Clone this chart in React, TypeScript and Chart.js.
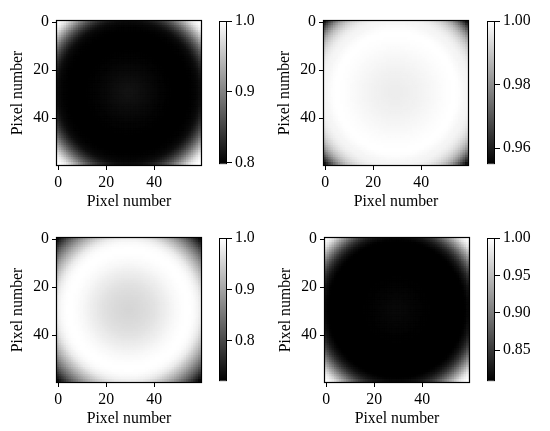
import React, { useEffect, useRef } from "react";
import { Chart, registerables } from "chart.js";

Chart.register(...registerables);

// ---------- data ----------
const GRID_N = 60;
const CENTER = 29.5;
const AXIS_TICKS = [0, 20, 40];
const X_TITLE = "Pixel number";
const Y_TITLE = "Pixel number";

// radial intensity profiles, index = distance (pixels) from image centre, 0..42
const PROFILE_A = [
  0.811, 0.811, 0.811, 0.81, 0.809, 0.808, 0.807, 0.806, 0.805, 0.804, 0.803,
  0.802, 0.801, 0.8, 0.799, 0.799, 0.798, 0.798, 0.797, 0.797, 0.797, 0.797,
  0.797, 0.797, 0.797, 0.797, 0.798, 0.799, 0.801, 0.804, 0.809, 0.819, 0.832,
  0.848, 0.866, 0.886, 0.909, 0.931, 0.953, 0.974, 0.988, 0.996, 1.0,
];
const PROFILE_B = [
  0.9968, 0.9968, 0.9968, 0.9969, 0.997, 0.9971, 0.9972, 0.9974, 0.9975,
  0.9976, 0.9977, 0.9979, 0.9981, 0.9983, 0.9985, 0.9986, 0.9988, 0.999,
  0.9992, 0.9994, 0.9995, 0.9997, 0.9998, 0.9999, 1.0, 1.0, 0.9998, 0.9994,
  0.9989, 0.9984, 0.9982, 0.9977, 0.9968, 0.9955, 0.9937, 0.9914, 0.9887,
  0.9851, 0.9806, 0.9751, 0.9693, 0.9625, 0.9562,
];
const PROFILE_C = [
  0.955, 0.955, 0.956, 0.957, 0.958, 0.959, 0.96, 0.962, 0.963, 0.965, 0.967,
  0.969, 0.972, 0.975, 0.978, 0.98, 0.983, 0.986, 0.989, 0.992, 0.994, 0.996,
  0.998, 0.999, 1.0, 1.0, 0.999, 0.997, 0.993, 0.986, 0.978, 0.964, 0.947,
  0.93, 0.911, 0.891, 0.869, 0.847, 0.824, 0.799, 0.774, 0.749, 0.727,
];
const PROFILE_D = [
  0.814, 0.814, 0.814, 0.813, 0.813, 0.812, 0.812, 0.811, 0.811, 0.81, 0.81,
  0.809, 0.809, 0.809, 0.808, 0.808, 0.808, 0.808, 0.808, 0.808, 0.808, 0.808,
  0.808, 0.808, 0.808, 0.808, 0.808, 0.808, 0.808, 0.81, 0.816, 0.823, 0.835,
  0.848, 0.866, 0.885, 0.906, 0.927, 0.948, 0.969, 0.985, 0.994, 1.0,
];

const COLOR_MIN = [0.797, 0.9548, 0.721, 0.808];
const COLOR_MAX = [1.0, 1.0, 1.0, 1.0];

const CB_TICKS_A = [0.8, 0.9, 1.0];
const CB_LABELS_A = ["0.8", "0.9", "1.0"];
const CB_TICKS_B = [0.96, 0.98, 1.0];
const CB_LABELS_B = ["0.96", "0.98", "1.00"];
const CB_TICKS_C = [0.8, 0.9, 1.0];
const CB_LABELS_C = ["0.8", "0.9", "1.0"];
const CB_TICKS_D = [0.85, 0.9, 0.95, 1.0];
const CB_LABELS_D = ["0.85", "0.90", "0.95", "1.00"];

const PROFILES = [PROFILE_A, PROFILE_B, PROFILE_C, PROFILE_D];
const CB_TICKS = [CB_TICKS_A, CB_TICKS_B, CB_TICKS_C, CB_TICKS_D];
const CB_LABELS = [CB_LABELS_A, CB_LABELS_B, CB_LABELS_C, CB_LABELS_D];

// ---------- layout ----------
const PANEL_POS = [
  { L: 57, T: 21, CL: 219 },
  { L: 324, T: 21, CL: 487 },
  { L: 57, T: 238, CL: 219 },
  { L: 325, T: 238, CL: 487 },
];
const AREA = 144;
const Y_AXIS_W = 57;
const X_AXIS_H = 50;
const TOP_PAD = 21;
const RIGHT_PAD = 9;
const CB_W = 8;
const CB_LEFT_PAD = 5;
const CB_AXIS_W = 50;
const CB_BOTTOM_PAD = 12;

const FONT = { family: "'Liberation Serif', 'Times New Roman', serif", size: 15.8, lineHeight: 1.2 };

const framePlugin = {
  id: "frame",
  afterDraw(chart: any) {
    const a = chart.chartArea;
    const c = chart.ctx;
    c.save();
    c.strokeStyle = "#000";
    c.lineWidth = 1.2;
    const l = Math.round(a.left) - 0.5;
    const t = Math.round(a.top) - 0.5;
    const r = Math.round(a.right) + 0.5;
    const b = Math.round(a.bottom) + 0.5;
    c.strokeRect(l, t, r - l, b - t);
    c.restore();
  },
};

function grayOf(v: number, vmin: number, vmax: number) {
  const f = Math.max(0, Math.min(1, (v - vmin) / (vmax - vmin)));
  const g = Math.round(f * 255);
  return `rgb(${g},${g},${g})`;
}

function profileAt(profile: number[], r: number) {
  const i = Math.min(Math.floor(r), profile.length - 1);
  const j = Math.min(i + 1, profile.length - 1);
  const t = Math.min(1, r - i);
  return profile[i] + (profile[j] - profile[i]) * t;
}

function heatConfig(idx: number): any {
  const profile = PROFILES[idx];
  const vmin = COLOR_MIN[idx];
  const vmax = COLOR_MAX[idx];
  const pts: any[] = [];
  const colors: string[] = [];
  for (let y = 0; y < GRID_N; y++) {
    for (let x = 0; x < GRID_N; x++) {
      const r = Math.hypot(x - CENTER, y - CENTER);
      const v = profileAt(profile, r);
      pts.push({ x, y, v });
      colors.push(grayOf(v, vmin, vmax));
    }
  }
  const tickSetter = (s: any) => {
    s.min = -0.5;
    s.max = GRID_N - 0.5;
    s.ticks = AXIS_TICKS.map((v) => ({ value: v }));
  };
  return {
    type: "scatter",
    data: {
      datasets: [
        {
          data: pts,
          pointStyle: "rect",
          pointBackgroundColor: colors,
          pointBorderWidth: 0,
          pointRadius: (ctx: any) => {
            const a = ctx.chart.chartArea;
            const w = a ? (a.right - a.left) / GRID_N : 2.4;
            return (w + 1.2) / Math.SQRT2;
          },
          clip: 0,
        },
      ],
    },
    options: {
      animation: false,
      responsive: false,
      events: [],
      layout: { padding: { left: 0, top: TOP_PAD, right: RIGHT_PAD, bottom: 0 } },
      plugins: { legend: { display: false }, tooltip: { enabled: false } },
      scales: {
        x: {
          type: "linear",
          bounds: "data",
          min: -0.5,
          max: GRID_N - 0.5,
          afterBuildTicks: tickSetter,
          afterFit: (s: any) => {
            s.height = X_AXIS_H;
          },
          ticks: { color: "#000", font: FONT, padding: 3, maxRotation: 0, autoSkip: false, callback: (v: any) => String(v) },
          grid: { drawOnChartArea: false, drawTicks: true, tickLength: 5, color: "#000" },
          border: { display: false },
          title: { display: true, text: X_TITLE, color: "#000", font: FONT, padding: { top: 0, bottom: 4 } },
        },
        y: {
          type: "linear",
          bounds: "data",
          reverse: true,
          min: -0.5,
          max: GRID_N - 0.5,
          afterBuildTicks: tickSetter,
          afterFit: (s: any) => {
            s.width = Y_AXIS_W;
          },
          ticks: { color: "#000", font: FONT, padding: 3, autoSkip: false, callback: (v: any) => String(v) },
          grid: { drawOnChartArea: false, drawTicks: true, tickLength: 5, color: "#000" },
          border: { display: false },
          title: { display: true, text: Y_TITLE, color: "#000", font: FONT, padding: { top: 8, bottom: 0 } },
        },
      },
    },
    plugins: [framePlugin],
  };
}

function cbarConfig(idx: number): any {
  const vmin = COLOR_MIN[idx];
  const vmax = COLOR_MAX[idx];
  const ticks = CB_TICKS[idx];
  const labels = CB_LABELS[idx];
  return {
    type: "bar",
    data: {
      labels: ["cbar"],
      datasets: [
        {
          data: [[vmin, vmax]],
          backgroundColor: (ctx: any) => {
            const a = ctx.chart.chartArea;
            if (!a) return "#888";
            const g = ctx.chart.ctx.createLinearGradient(0, a.bottom, 0, a.top);
            g.addColorStop(0, "#000");
            g.addColorStop(1, "#fff");
            return g;
          },
          borderColor: "#000",
          borderWidth: 1,
          borderSkipped: false,
          inflateAmount: 0,
          barPercentage: 1,
          categoryPercentage: 1,
        },
      ],
    },
    options: {
      animation: false,
      responsive: false,
      events: [],
      layout: { padding: { left: CB_LEFT_PAD, top: TOP_PAD, right: 0, bottom: CB_BOTTOM_PAD } },
      plugins: { legend: { display: false }, tooltip: { enabled: false } },
      scales: {
        x: { display: false },
        y: {
          position: "right",
          bounds: "data",
          grace: 0,
          beginAtZero: false,
          min: vmin,
          max: vmax,
          afterBuildTicks: (s: any) => {
            s.min = vmin;
            s.max = vmax;
            s.ticks = ticks.map((v) => ({ value: v }));
          },
          afterFit: (s: any) => {
            s.width = CB_AXIS_W;
          },
          ticks: {
            color: "#000",
            font: FONT,
            padding: 3,
            autoSkip: false,
            callback: (_v: any, i: number) => labels[i],
          },
          grid: { drawOnChartArea: false, drawTicks: true, tickLength: 5, color: "#000" },
          border: { display: false },
        },
      },
    },
  };
}

function Panel({ idx }: { idx: number }) {
  const heatRef = useRef<HTMLCanvasElement>(null);
  const cbRef = useRef<HTMLCanvasElement>(null);
  useEffect(() => {
    const h = new Chart(heatRef.current as HTMLCanvasElement, heatConfig(idx));
    const c = new Chart(cbRef.current as HTMLCanvasElement, cbarConfig(idx));
    return () => {
      h.destroy();
      c.destroy();
    };
  }, [idx]);
  const p = PANEL_POS[idx];
  const hw = Y_AXIS_W + AREA + RIGHT_PAD;
  const hh = TOP_PAD + AREA + X_AXIS_H;
  const cw = CB_LEFT_PAD + CB_W + CB_AXIS_W;
  const ch = TOP_PAD + AREA + CB_BOTTOM_PAD;
  return (
    <>
      <canvas
        ref={heatRef}
        width={hw}
        height={hh}
        style={{ position: "absolute", left: p.L - Y_AXIS_W, top: p.T - TOP_PAD, width: hw, height: hh }}
      />
      <canvas
        ref={cbRef}
        width={cw}
        height={ch}
        style={{ position: "absolute", left: p.CL - CB_LEFT_PAD, top: p.T - TOP_PAD, width: cw, height: ch }}
      />
    </>
  );
}

export default function App() {
  return (
    <div style={{ position: "absolute", left: 0, top: 0, width: 550, height: 431, background: "#fff", overflow: "hidden" }}>
      {[0, 1, 2, 3].map((i) => (
        <Panel key={i} idx={i} />
      ))}
    </div>
  );
}
